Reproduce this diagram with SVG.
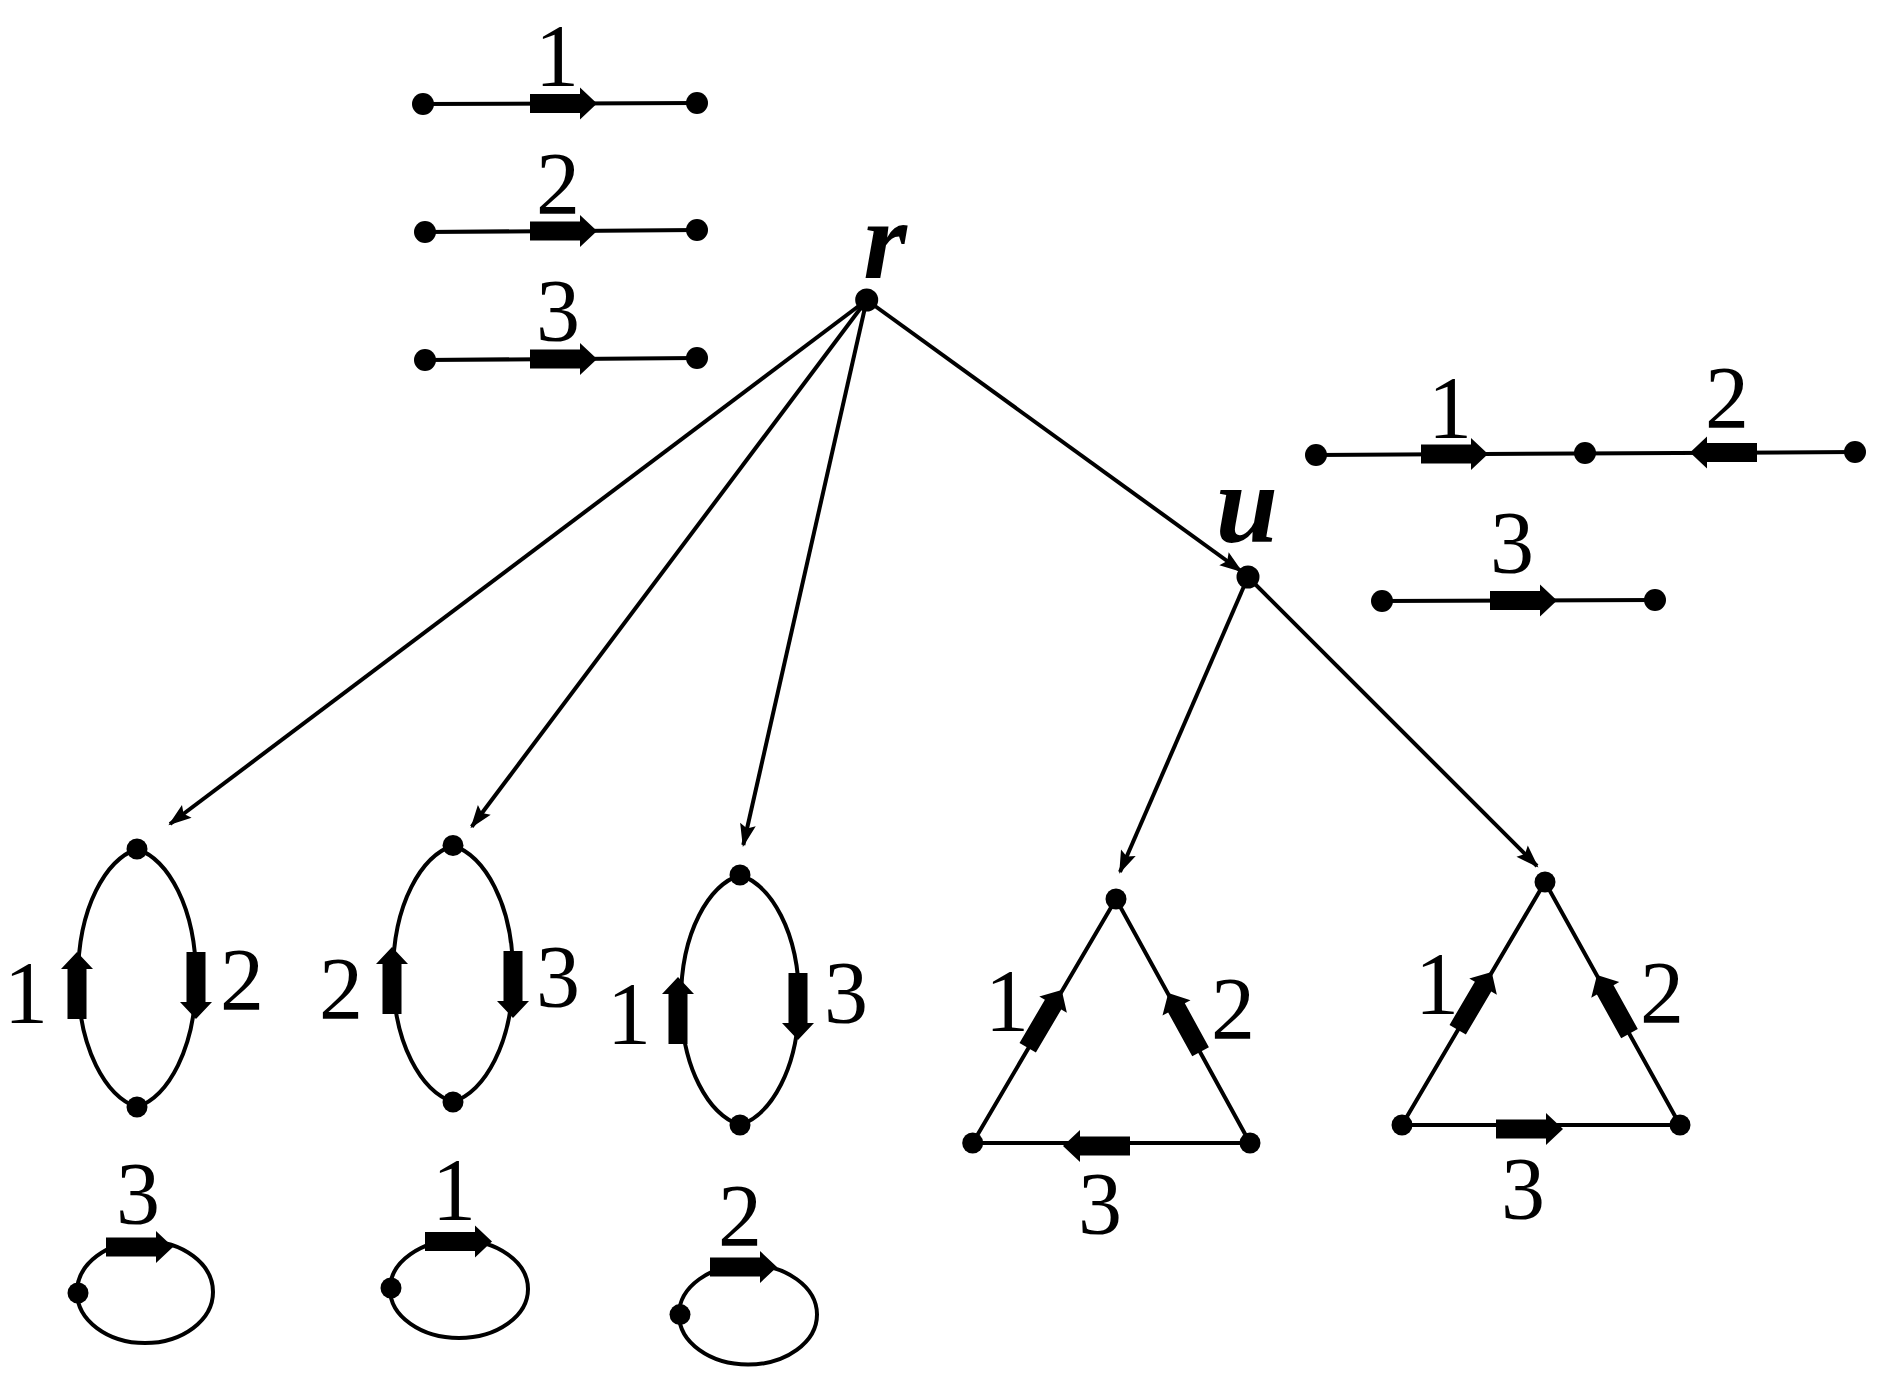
<svg xmlns="http://www.w3.org/2000/svg" xmlns:xlink="http://www.w3.org/1999/xlink" width="1885" height="1391" viewBox="0 0 1885 1391">
<style>
.edge{fill:none;stroke:#000;stroke-width:4}
.conn{fill:none;stroke:#000;stroke-width:4}
.dot{fill:#000}
.arr{fill:#000}
.lbl{font-family:"Liberation Serif","Times New Roman",serif;font-size:88px;text-anchor:middle;fill:#000}
.var{font-family:"Liberation Serif","Times New Roman",serif;font-size:112px;font-weight:bold;font-style:italic;text-anchor:middle;fill:#000}
</style>
<defs>
<path id="ar" d="M-67,-9.5 H-17 V-16 L0,0 L-17,16 V9.5 H-67 Z"/>
<marker id="ah" viewBox="-24 -10 28 20" refX="0" refY="0" markerWidth="28" markerHeight="20" orient="auto" markerUnits="userSpaceOnUse">
<path d="M2,0 L-21,-8 L-17,0 L-21,8 Z" fill="#000"/>
</marker>
</defs>
<rect width="1885" height="1391" fill="#fff"/>

<g id="connectors">
<line class="conn" x1="866.7" y1="300" x2="170" y2="824" marker-end="url(#ah)"/>
<line class="conn" x1="866.7" y1="300" x2="471.7" y2="826.7" marker-end="url(#ah)"/>
<line class="conn" x1="866.7" y1="300" x2="743.3" y2="845" marker-end="url(#ah)"/>
<line class="conn" x1="866.7" y1="300" x2="1241" y2="571" marker-end="url(#ah)"/>
<line class="conn" x1="1248" y1="577" x2="1120" y2="872" marker-end="url(#ah)"/>
<line class="conn" x1="1248" y1="577" x2="1537" y2="866" marker-end="url(#ah)"/>
</g>

<g id="node-r">
<circle class="dot" cx="866.7" cy="300" r="11.5"/>
<text class="var" x="885" y="278">r</text>
</g>
<g id="node-u">
<circle class="dot" cx="1248" cy="577" r="11.5"/>
<text class="var" x="1247" y="542">u</text>
</g>

<g id="graph-top-left">
<line class="edge" x1="423" y1="104" x2="697" y2="103"/>
<use href="#ar" class="arr" transform="translate(597,103.5)"/>
<circle class="dot" cx="423" cy="104" r="11"/>
<circle class="dot" cx="697" cy="103" r="11"/>
<text class="lbl" x="557" y="85">1</text>
<line class="edge" x1="425" y1="232" x2="697" y2="230"/>
<use href="#ar" class="arr" transform="translate(597,231)"/>
<circle class="dot" cx="425" cy="232" r="11"/>
<circle class="dot" cx="697" cy="230" r="11"/>
<text class="lbl" x="558" y="213">2</text>
<line class="edge" x1="425" y1="360" x2="697" y2="358"/>
<use href="#ar" class="arr" transform="translate(597,359)"/>
<circle class="dot" cx="425" cy="360" r="11"/>
<circle class="dot" cx="697" cy="358" r="11"/>
<text class="lbl" x="558" y="340">3</text>
</g>

<g id="graph-top-right">
<line class="edge" x1="1316" y1="455" x2="1855" y2="452"/>
<use href="#ar" class="arr" transform="translate(1488,454)"/>
<use href="#ar" class="arr" transform="translate(1690,452.5) rotate(180)"/>
<circle class="dot" cx="1316" cy="455" r="11"/>
<circle class="dot" cx="1585" cy="453" r="11"/>
<circle class="dot" cx="1855" cy="452" r="11"/>
<text class="lbl" x="1450" y="437">1</text>
<text class="lbl" x="1727" y="427">2</text>
<line class="edge" x1="1382" y1="601" x2="1655" y2="600"/>
<use href="#ar" class="arr" transform="translate(1557,600.5)"/>
<circle class="dot" cx="1382" cy="601" r="11"/>
<circle class="dot" cx="1655" cy="600" r="11"/>
<text class="lbl" x="1512" y="572">3</text>
</g>

<g id="graph-1">
<path class="edge" d="M137,849 C167.7,859.3 196,907 196,978 C196,1049 167.7,1096.7 137,1107 C106.3,1096.7 78,1049 78,978 C78,907 106.3,859.3 137,849 Z"/>
<use href="#ar" class="arr" transform="translate(77,952) rotate(-90)"/>
<use href="#ar" class="arr" transform="translate(196,1019) rotate(90)"/>
<circle class="dot" cx="137" cy="849" r="10.5"/>
<circle class="dot" cx="137" cy="1107" r="10.5"/>
<text class="lbl" x="26" y="1022">1</text>
<text class="lbl" x="242" y="1009">2</text>
<ellipse class="edge" cx="145" cy="1292" rx="68" ry="51"/>
<use href="#ar" class="arr" transform="translate(173,1247)"/>
<circle class="dot" cx="78" cy="1293" r="10.5"/>
<text class="lbl" x="138" y="1223">3</text>
</g>

<g id="graph-2">
<path class="edge" d="M453,845.5 C484.2,855.8 513,903.2 513,973.75 C513,1044.3 484.2,1091.7 453,1102 C421.8,1091.7 393,1044.3 393,973.75 C393,903.2 421.8,855.8 453,845.5 Z"/>
<use href="#ar" class="arr" transform="translate(392,947) rotate(-90)"/>
<use href="#ar" class="arr" transform="translate(513,1018) rotate(90)"/>
<circle class="dot" cx="453" cy="845.5" r="10.5"/>
<circle class="dot" cx="453" cy="1102" r="10.5"/>
<text class="lbl" x="341" y="1018">2</text>
<text class="lbl" x="558" y="1006">3</text>
<ellipse class="edge" cx="459" cy="1289" rx="69" ry="49"/>
<use href="#ar" class="arr" transform="translate(492,1241.5)"/>
<circle class="dot" cx="391" cy="1288" r="10.5"/>
<text class="lbl" x="454" y="1219">1</text>
</g>

<g id="graph-3">
<path class="edge" d="M740,875 C770.7,885 799,931.25 799,1000 C799,1068.75 770.7,1115 740,1125 C709.3,1115 681,1068.75 681,1000 C681,931.25 709.3,885 740,875 Z"/>
<use href="#ar" class="arr" transform="translate(678,977) rotate(-90)"/>
<use href="#ar" class="arr" transform="translate(798,1040) rotate(90)"/>
<circle class="dot" cx="740" cy="875" r="10.5"/>
<circle class="dot" cx="740" cy="1125" r="10.5"/>
<text class="lbl" x="629" y="1043">1</text>
<text class="lbl" x="846" y="1022">3</text>
<ellipse class="edge" cx="748" cy="1314.6" rx="69" ry="50"/>
<use href="#ar" class="arr" transform="translate(777,1267)"/>
<circle class="dot" cx="680" cy="1314.6" r="10.5"/>
<text class="lbl" x="740" y="1245">2</text>
</g>

<g id="graph-4">
<path class="edge" d="M1116,899 L972.7,1143 L1250,1143 Z"/>
<use href="#ar" class="arr" transform="translate(1061.7,990) rotate(-59.5)"/>
<use href="#ar" class="arr" transform="translate(1168.3,993) rotate(-118.8)"/>
<use href="#ar" class="arr" transform="translate(1063,1146) rotate(180)"/>
<circle class="dot" cx="1116" cy="899" r="10.5"/>
<circle class="dot" cx="972.7" cy="1143" r="10.5"/>
<circle class="dot" cx="1250" cy="1143" r="10.5"/>
<text class="lbl" x="1007" y="1030">1</text>
<text class="lbl" x="1233" y="1038">2</text>
<text class="lbl" x="1100" y="1233">3</text>
</g>

<g id="graph-5">
<path class="edge" d="M1545,882 L1402,1125 L1680,1125 Z"/>
<use href="#ar" class="arr" transform="translate(1491.7,972) rotate(-59.5)"/>
<use href="#ar" class="arr" transform="translate(1597,975) rotate(-119)"/>
<use href="#ar" class="arr" transform="translate(1563,1129)"/>
<circle class="dot" cx="1545" cy="882" r="10.5"/>
<circle class="dot" cx="1402" cy="1125" r="10.5"/>
<circle class="dot" cx="1680" cy="1125" r="10.5"/>
<text class="lbl" x="1437" y="1013">1</text>
<text class="lbl" x="1662" y="1022">2</text>
<text class="lbl" x="1523" y="1218">3</text>
</g>
</svg>
